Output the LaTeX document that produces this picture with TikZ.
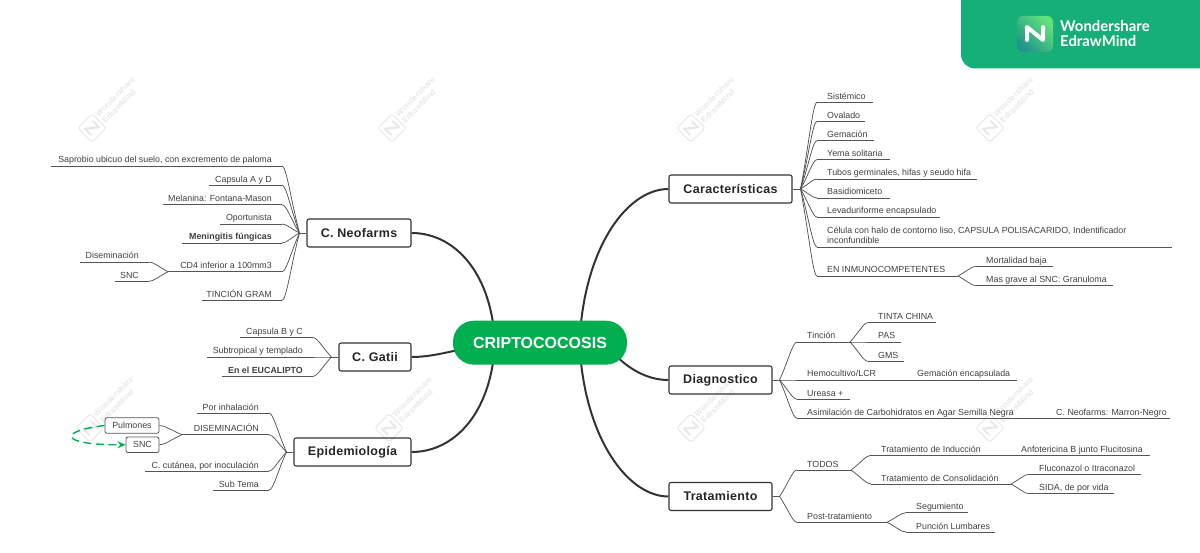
\documentclass[tikz,border=0pt]{standalone}
\usepackage{fontspec}
\setmainfont{Liberation Sans}
\newfontfamily\topicfont[LetterSpace=2.5]{Liberation Sans}
\newfontfamily\logofont{Lato}
\usetikzlibrary{calc,backgrounds,arrows.meta}
\definecolor{rootgreen}{HTML}{00AE4F}
\definecolor{panelgreen}{HTML}{17AF78}
\definecolor{inkdark}{HTML}{404040}
\definecolor{inktopic}{HTML}{333333}
\definecolor{inkleaf}{HTML}{555555}
\definecolor{inkmark}{HTML}{E8E8E8}
\definecolor{logolime}{HTML}{62E27A}
\definecolor{logoteal}{HTML}{1F958C}
\tikzset{
  leaftext/.style={inner sep=0pt,text=inkdark,font=\fontsize{8.85}{10.7}\selectfont,align=left},
  twig/.style={inkleaf,line width=0.75pt},
  limb/.style={inktopic,line width=2pt},
  topicbox/.style={draw=inktopic,line width=1.1pt,rounded corners=2pt,inner sep=0pt,minimum height=28pt,text=black!85,font=\topicfont\bfseries\fontsize{12.5}{14}\selectfont},
  rootbox/.style={fill=rootgreen,rounded corners=21pt,inner sep=0pt,minimum width=174pt,minimum height=44pt,text=white,font=\bfseries\fontsize{16}{18}\selectfont},
  smallbox/.style={draw=inkleaf,line width=0.8pt,rounded corners=2pt,inner sep=0pt,minimum height=15.5pt,text=inkdark,font=\fontsize{8.85}{10.7}\selectfont},
  linkdash/.style={rootgreen,line width=1.4pt,dash pattern=on 8pt off 4.5pt,-{Stealth[length=8pt,width=7pt]}},
  marktext/.style={inner sep=0pt,text=inkmark,font=\fontsize{8.2}{9.2}\selectfont\bfseries,align=left}
}
\newcommand\rightleaf[5]{
  \coordinate (#1a) at (#2,#4);
  \coordinate (#1b) at (#3,#4);
  \draw[twig] (#1a) -- (#1b);
  \node[leaftext,anchor=base west] (#1) at ($ (#1a) + (10,-3) $) {#5};
}
\newcommand\leftleaf[5]{
  \coordinate (#1a) at (#2,#4);
  \coordinate (#1b) at (#3,#4);
  \draw[twig] (#1a) -- (#1b);
  \node[leaftext,anchor=base east] (#1) at ($ (#1b) + (-10,-3) $) {#5};
}
\newcommand\branch[2]{
  \draw[twig] (#1) .. controls ($ (#1)!0.5!(#2) $) and ($ (#2)!0.25!(#1 |- #2) $) .. (#2);
}
\newcommand\watermark[3]{
  \begin{scope}[shift={(#2,#3)},rotate=45]
    \draw[inkmark,line width=1pt,rounded corners=2.5pt] (-10,-10) rectangle (10,10);
    \draw[inkmark,line width=2pt,line join=round] (-5.5,4.5) -- (-5.5,-4.5) -- (5.5,4.5) -- (5.5,-4.5);
  \end{scope}
  \node[marktext,rotate=45,anchor=west] (#1) at ($ (#2,#3) + (8,-9.5) $) {Wondershare\\EdrawMind};
}

\begin{document}
\begin{tikzpicture}[x=1pt,y=-1pt]
  \useasboundingbox (0,0) rectangle (1200,553);

  \watermark{markA}{92}{128}
  \watermark{markB}{392}{128}
  \watermark{markC}{691}{128}
  \watermark{markD}{990}{128}
  \watermark{markE}{90}{428}
  \watermark{markF}{389}{428}
  \watermark{markG}{691}{428}
  \watermark{markH}{990}{428}

  \fill[panelgreen,rounded corners=14pt] (961,-20) -- (961,68.5) -- (1230,68.5) -- (1230,-20) -- cycle;
  \shade[rounded corners=6pt,left color=logolime,right color=logoteal,shading angle=-45] (1017,16) rectangle (1053,52);
  \draw[white,line width=4pt,line join=round,line cap=round] (1027,40) -- (1027,27) -- (1043,40) -- (1043,27);
  \node[inner sep=0pt,anchor=base west,text=white,font=\logofont\bfseries\fontsize{14.9}{15}\selectfont] (logoA) at (1060,31.5) {Wondershare};
  \node[inner sep=0pt,anchor=base west,text=white,font=\logofont\bfseries\fontsize{14.9}{15}\selectfont] (logoB) at (1060,46.5) {EdrawMind};

  \node[rootbox] (root) at (540,342.7) {CRIPTOCOCOSIS};

  \node[topicbox,minimum width=104pt] (neo) at (359,233) {C. Neofarms};
  \node[topicbox,minimum width=72pt] (gatii) at (375,357) {C. Gatii};
  \node[topicbox,minimum width=117pt] (epi) at (352.5,452) {Epidemiología};
  \node[topicbox,minimum width=123pt] (carac) at (730.5,189) {Características};
  \node[topicbox,minimum width=103pt] (diag) at (720.5,380) {Diagnostico};
  \node[topicbox,minimum width=103pt] (trat) at (720.5,496.5) {Tratamiento};

  \begin{scope}[on background layer]
    \draw[limb] ($ (root) + (-47,-20) $) .. controls ($ (root) + (-56,-78) $) and (450,233) .. (neo.east);
    \draw[limb] ($ (root) + (-85,8) $) .. controls ($ (root) + (-103,12) $) and (425,357) .. (gatii.east);
    \draw[limb] ($ (root) + (-47,20) $) .. controls ($ (root) + (-56,78) $) and (450,452) .. (epi.east);
    \draw[limb] ($ (root) + (41,-20) $) .. controls ($ (root) + (50,-103) $) and (630,189) .. (carac.west);
    \draw[limb] ($ (root) + (78,15) $) .. controls ($ (root) + (93,29) $) and (650,380) .. (diag.west);
    \draw[limb] ($ (root) + (41,20) $) .. controls ($ (root) + (50,102) $) and (630,496.5) .. (trat.west);
  \end{scope}

  \coordinate (neohub) at ($ (neo.west) + (-7,0) $);
  \draw[twig] (neo.west) -- (neohub);
  \leftleaf{sap}{51}{282}{166}{Saprobio ubicuo del suelo, con excremento de paloma}
  \leftleaf{capad}{209}{282}{185.3}{Capsula A y D}
  \leftleaf{mel}{163}{282}{204.7}{Melanina: Fontana-Mason}
  \leftleaf{opo}{220}{282}{224}{Oportunista}
  \leftleaf{men}{182}{282}{243}{\textbf{Meningitis fúngicas}}
  \leftleaf{cdf}{168}{282}{271.7}{CD4 inferior a 100mm3}
  \leftleaf{gram}{202}{282}{300.3}{TINCIÓN GRAM}
  \branch{neohub}{sapb}
  \branch{neohub}{capadb}
  \branch{neohub}{melb}
  \branch{neohub}{opob}
  \branch{neohub}{menb}
  \branch{neohub}{cdfb}
  \branch{neohub}{gramb}
  \leftleaf{dise}{80}{149}{262}{Diseminación}
  \leftleaf{sncA}{115}{149}{281.3}{SNC}
  \branch{cdfa}{diseb}
  \branch{cdfa}{sncAb}

  \coordinate (gatiihub) at ($ (gatii.west) + (-7,0) $);
  \draw[twig] (gatii.west) -- (gatiihub);
  \leftleaf{capbc}{240}{313}{337.7}{Capsula B y C}
  \leftleaf{subt}{207}{313}{357}{Subtropical y templado}
  \leftleaf{euca}{222}{313}{376.3}{\textbf{En el EUCALIPTO}}
  \branch{gatiihub}{capbcb}
  \branch{gatiihub}{subtb}
  \branch{gatiihub}{eucab}

  \coordinate (epihub) at ($ (epi.west) + (-7,0) $);
  \draw[twig] (epi.west) -- (epihub);
  \leftleaf{inha}{197}{269}{413}{Por inhalación}
  \leftleaf{dsem}{182}{269}{434.7}{DISEMINACIÓN}
  \leftleaf{cuta}{145}{269}{471}{C. cutánea, por inoculación}
  \leftleaf{stem}{213}{269}{490}{Sub Tema}
  \branch{epihub}{inhab}
  \branch{epihub}{dsemb}
  \branch{epihub}{cutab}
  \branch{epihub}{stemb}
  \node[smallbox,minimum width=54pt] (pulm) at (132,425.5) {Pulmones};
  \node[smallbox,minimum width=33pt] (sncB) at (142.5,444.8) {SNC};
  \branch{dsema}{pulm.east}
  \branch{dsema}{sncB.east}
  \draw[linkdash] (pulm.west) .. controls (58,431) and (58,445) .. (sncB.west);

  \coordinate (carachub) at ($ (carac.east) + (8,0) $);
  \draw[twig] (carac.east) -- (carachub);
  \rightleaf{sist}{817}{873}{102.3}{Sistémico}
  \rightleaf{oval}{817}{865}{121.3}{Ovalado}
  \rightleaf{gema}{817}{874}{140.7}{Gemación}
  \rightleaf{yema}{817}{890}{159.7}{Yema solitaria}
  \rightleaf{tubo}{817}{977}{179}{Tubos germinales, hifas y seudo hifa}
  \rightleaf{basi}{817}{890}{198}{Basidiomiceto}
  \rightleaf{leva}{817}{940}{217}{Levaduriforme encapsulado}
  \rightleaf{celu}{817}{1172}{247}{Célula con halo de contorno liso, CAPSULA POLISACARIDO, Indentificador\\inconfundible}
  \rightleaf{inmu}{817}{958}{276}{EN INMUNOCOMPETENTES}
  \branch{carachub}{sista}
  \branch{carachub}{ovala}
  \branch{carachub}{gemaa}
  \branch{carachub}{yemaa}
  \branch{carachub}{tuboa}
  \branch{carachub}{basia}
  \branch{carachub}{levaa}
  \branch{carachub}{celua}
  \branch{carachub}{inmua}
  \rightleaf{mort}{976}{1053}{266.3}{Mortalidad baja}
  \rightleaf{grav}{976}{1113}{285.7}{Mas grave al SNC: Granuloma}
  \branch{inmub}{morta}
  \branch{inmub}{grava}

  \coordinate (diaghub) at ($ (diag.east) + (7,0) $);
  \draw[twig] (diag.east) -- (diaghub);
  \rightleaf{tinc}{797}{850}{342}{Tinción}
  \rightleaf{hemo}{797}{907}{380}{Hemocultivo/LCR}
  \rightleaf{urea}{797}{850}{399.3}{Ureasa +}
  \rightleaf{asim}{797}{1046}{418.3}{Asimilación de Carbohidratos en Agar Semilla Negra}
  \branch{diaghub}{tinca}
  \branch{diaghub}{hemoa}
  \branch{diaghub}{ureaa}
  \branch{diaghub}{asima}
  \rightleaf{tint}{868}{936}{322.7}{TINTA CHINA}
  \rightleaf{pas}{868}{901}{342}{PAS}
  \rightleaf{gms}{868}{904}{361.3}{GMS}
  \branch{tincb}{tinta}
  \branch{tincb}{pasa}
  \branch{tincb}{gmsa}
  \rightleaf{genc}{907}{1017}{380}{Gemación encapsulada}
  \rightleaf{marr}{1046}{1170}{418.3}{C. Neofarms: Marron-Negro}

  \coordinate (trathub) at ($ (trat.east) + (7,0) $);
  \draw[twig] (trat.east) -- (trathub);
  \rightleaf{todo}{797}{851}{470}{TODOS}
  \rightleaf{post}{797}{887}{522.3}{Post-tratamiento}
  \branch{trathub}{todoa}
  \branch{trathub}{posta}
  \rightleaf{indu}{871}{1011}{455.3}{Tratamiento de Inducción}
  \rightleaf{cons}{871}{1011}{484}{Tratamiento de Consolidación}
  \branch{todob}{indua}
  \branch{todob}{consa}
  \rightleaf{anfo}{1011}{1150}{455.3}{Anfotericina B junto Flucitosina}
  \rightleaf{fluc}{1029}{1141}{474.3}{Fluconazol o Itraconazol}
  \rightleaf{sida}{1029}{1114}{493.7}{SIDA, de por vida}
  \branch{consb}{fluca}
  \branch{consb}{sidaa}
  \rightleaf{segu}{906}{968}{512.7}{Segumiento}
  \rightleaf{punc}{906}{995}{532}{Punción Lumbares}
  \branch{postb}{segua}
  \branch{postb}{punca}
\end{tikzpicture}
\end{document}
